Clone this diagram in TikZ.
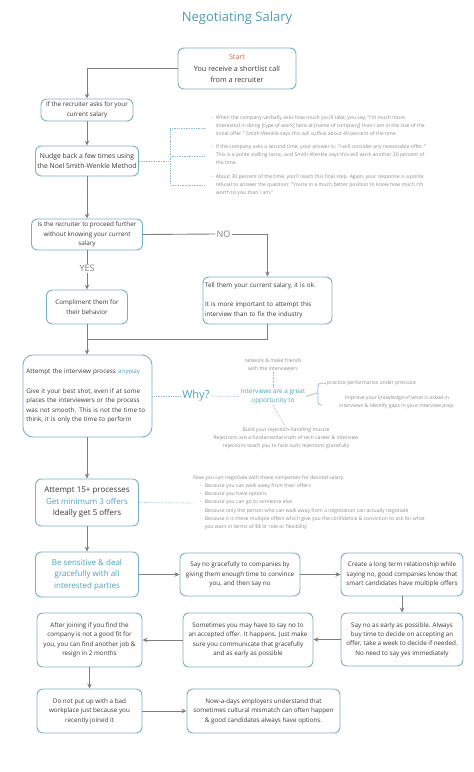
\documentclass[tikz,border=0pt]{standalone}
\usepackage{fontspec}
\setmainfont{Open Sans}
\usetikzlibrary{arrows.meta}
\definecolor{tealtxt}{HTML}{4AA3B9}
\definecolor{titlec}{HTML}{4E9DB5}
\definecolor{boxc}{HTML}{78B1C3}
\definecolor{arrc}{HTML}{7F7F7F}
\definecolor{darktxt}{HTML}{383838}
\definecolor{graytxt}{HTML}{8C8C8C}
\definecolor{startc}{HTML}{CF6F4F}
\definecolor{dotc}{HTML}{8FBCCB}
\newcommand{\fs}[2]{\fontsize{#1}{#2}\selectfont}
\tikzset{
  box/.style={draw=boxc, line width=0.9pt, rounded corners=6pt, fill=white, align=center, inner sep=2pt, text=darktxt, font=\fs{6.3}{9.4}},
  arr/.style={draw=arrc, line width=0.9pt, -{Stealth[length=5pt,width=4.5pt]}},
  plain/.style={draw=arrc, line width=0.9pt},
  dotl/.style={draw=dotc, line width=0.7pt, densely dotted},
  side/.style={text=graytxt, font=\fs{5.1}{8.1}, inner sep=0pt},
  lbl/.style={text=arrc, font=\fs{9}{11}, inner sep=1pt}
}
\begin{document}
\begin{tikzpicture}[x=1pt,y=-1pt]
\useasboundingbox[fill=white] (0,0) rectangle (474,772);

\node[text=titlec, font=\fs{13}{15}] (title) at (237,18) {Negotiating Salary};

\node[box, minimum width=118, minimum height=41, font=\fs{7.2}{11.3}] (start) at (237,68.5)
  {\textcolor{startc}{Start}\\You receive a shortlist call\\from a recruiter};

\node[box, minimum width=92, minimum height=22] (b1) at (87,110) {If the recruiter asks for your\\current salary};
\node[box, minimum width=99, minimum height=30, font=\fs{6.8}{10}] (b2) at (87,161) {Nudge back a few times using\\the Noel Smith-Wenkle Method};
\node[box, minimum width=111, minimum height=31] (b3) at (87,234.5) {Is the recruiter to proceed further\\without knowing your current\\salary};
\node[box, minimum width=81, minimum height=34] (b5) at (87,307) {Compliment them for\\their behavior};
\node[box, text width=125, minimum height=47, align=left] (b4) at (267.5,300.5)
  {Tell them your current salary, it is ok.\\[9.5pt]It is more important to attempt this\\interview than to fix the industry};
\node[box, rounded corners=10pt, text width=122, inner xsep=3.5pt, minimum height=82, align=left] (b6) at (87.5,396)
  {Attempt the interview process \textcolor{tealtxt}{anyway}\\[10pt]Give it your best shot, even if at some\\places the interviewers or the process\\was not smooth. This is not the time to\\think, it is only the time to perform};
\node[box, minimum width=103, minimum height=47, font=\fs{8}{11.5}] (b7) at (87,502.5)
  {Attempt 15+ processes\\\textcolor{tealtxt}{Get minimum 3 offers}\\Ideally get 5 offers};
\node[box, minimum width=103, minimum height=45, font=\fs{8}{11.5}, text=tealtxt] (b8) at (87,574.5)
  {Be sensitive \& deal\\gracefully with all\\interested parties};
\node[box, minimum width=120, minimum height=43] (b9) at (240,574.5)
  {Say no gracefully to companies by\\giving them enough time to convince\\you, and then say no};
\node[box, minimum width=122, minimum height=43] (b10) at (402,574.5)
  {Create a long term relationship while\\saying no, good companies know that\\smart candidates have multiple offers};
\node[box, minimum width=122, minimum height=53] (b11) at (402,639.5)
  {Say no as early as possible. Always\\buy time to decide on accepting an\\offer, take a week to decide if needed.\\No need to say yes immediately};
\node[box, minimum width=130, minimum height=54] (b12) at (248,640)
  {Sometimes you may have to say no to\\an accepted offer. It happens. Just make\\sure you communicate that gracefully\\and as early as possible};
\node[box, minimum width=105, minimum height=54] (b13) at (89.5,640)
  {After joining if you find the\\company is not a good fit for\\you, you can find another job \&\\resign in 2 months};
\node[box, minimum width=105, minimum height=44] (b14) at (89.5,711)
  {Do not put up with a bad\\workplace just because you\\recently joined it};
\node[box, minimum width=153, minimum height=44] (b15) at (263.5,711)
  {Now-a-days employers understand that\\sometimes cultural mismatch can often happen\\\& good candidates always have options.};

% main flow
\draw[arr] (start.west) -| (b1.north);
\draw[arr] (b1.south) -- (b2.north);
\draw[arr] (b2.south) -- (b3.north);
\node[lbl] (yes) at (87,268) {YES};
\draw[plain] (b3.south) -- (yes.north);
\draw[arr] (yes.south) -- (b5.north);
\node[lbl] (no) at (223.5,234) {NO};
\draw[plain] (b3.east) -- (no.west);
\draw[arr] (no.east) -| (b4.north);
\coordinate (m) at (87,339);
\draw[plain] (b4.south) |- (m);
\draw[plain] (b5.south) -- (m);
\draw[arr] (m) -- (b6.north -| m);
\draw[arr] (b6.south -| m) -- (b7.north);
\draw[arr] (b7.south) -- (b8.north);
\draw[arr] (b8.east) -- (b9.west);
\draw[arr] (b9.east) -- (b10.west);
\draw[arr] (b10.south) -- (b11.north);
\draw[arr] (b11.west) -- (b12.east |- b11.west);
\draw[arr] (b12.west) -- (b13.east |- b12.west);
\draw[arr] (b13.south) -- (b14.north);
\draw[arr] (b14.east) -- (b15.west);

% Smith-Wenkle notes
\coordinate (swj) at (170,161);
\coordinate (swt) at (170,128);
\coordinate (swb) at (170,185);
\coordinate (swm) at (170,156);
\node[side, anchor=north west, align=left] (sw1) at (211,115.5)
  {-\hspace{3pt}When the company verbally asks how much you'll take, you say, "I'm much more\\
   \phantom{-}\hspace{3pt}interested in doing [type of work] here at [name of company] than I am in the size of the\\
   \phantom{-}\hspace{3pt}initial offer." Smith-Wenkle says this will suffice about 40 percent of the time.};
\node[side, anchor=north west, align=left] (sw2) at (211,144.5)
  {-\hspace{3pt}If the company asks a second time, your answer is: "I will consider any reasonable offer."\\
   \phantom{-}\hspace{3pt}This is a polite stalling tactic, and Smith-Wenkle says this will work another 30 percent of\\
   \phantom{-}\hspace{3pt}the time.};
\node[side, anchor=north west, align=left] (sw3) at (211,174.5)
  {-\hspace{3pt}About 30 percent of the time, you'll reach this final step. Again, your response is a polite\\
   \phantom{-}\hspace{3pt}refusal to answer the question: "You're in a much better position to know how much I'm\\
   \phantom{-}\hspace{3pt}worth to you than I am."};
\draw[dotl] (b2.east) -- (swj);
\draw[dotl] (205,128) -- (swt) -- (swb) -- (205,185);
\draw[dotl] (swm) -- (205,156);

% Why section
\node[text=tealtxt, font=\fs{11}{13}, inner sep=1pt] (why) at (196,396) {Why?};
\node[text=tealtxt, font=\fs{6.4}{9}, align=center, inner sep=1pt] (opp) at (273,396.5) {Interviews are a great\\opportunity to};
\node[side, align=center] (net) at (273,365) {network \& make friends\\with the interviewers};
\node[side, align=center] (rej) at (286,438.5) {Build your rejection-handling muscle\\Rejections are a fundamental truth of tech career \& interview\\rejections teach you to face such rejections gracefully};
\node[side, anchor=west] (prac) at (327,383) {practice performance under pressure};
\node[side, align=center] (impr) at (397,402.5) {Improve your knowledge of what is asked in\\interviews \& identify gaps in your interview prep.};
\draw[dotl] (b6.east) -- (why.west);
\draw[dotl] (why.east) -- (opp.west);
\draw[dotl] (opp.north) -- (net.south);
\draw[dotl] (opp.south) -- (rej.north);
\coordinate (brt) at (313,394);
\draw[draw=dotc, line width=0.7pt] (opp.east) -- (brt);
\draw[draw=dotc, line width=0.7pt, rounded corners=3pt] (brt) -- (318,394) -- (318,383) -- (322,383);
\draw[draw=dotc, line width=0.7pt, rounded corners=3pt] (318,393) -- (318,405) -- (322,405);
\draw[dotl] (322,383) -- (prac.west);

% offers notes
\node[side, anchor=north west, align=left] (off) at (193,475.5)
  {Now you can negotiate with these companies for desired salary\\
   \hspace*{7pt}-\hspace{3pt}Because you can walk away from their offers\\
   \hspace*{7pt}-\hspace{3pt}Because you have options\\
   \hspace*{7pt}-\hspace{3pt}Because you can go to someone else\\
   \hspace*{7pt}-\hspace{3pt}Because only the person who can walk away from a negotiation can actually negotiate\\
   \hspace*{7pt}-\hspace{3pt}Because it is these multiple offers which give you the confidence \& conviction to ask for what\\
   \hspace*{7pt}\phantom{-}\hspace{3pt}you want in terms of \$\$ or role or flexibility};
\draw[dotl] (b7.east) -- (193,503);
\end{tikzpicture}
\end{document}
